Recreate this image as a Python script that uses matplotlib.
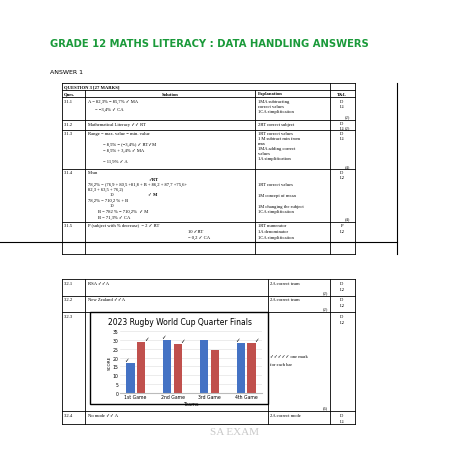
import matplotlib
matplotlib.use("Agg")
import matplotlib.pyplot as plt
from matplotlib.lines import Line2D
from matplotlib.patches import Rectangle
import numpy as np

teams = ["1st Game", "2nd Game", "3rd Game", "4th Game"]
series_a = [17, 30, 30, 28]
series_b = [29, 27.5, 24, 28.5]
yticks = [0, 5, 10, 15, 20, 25, 30, 35]

W = 452
FAM = ["Liberation Serif", "DejaVu Sans"]
fig = plt.figure(figsize=(4.52, 4.52), dpi=100)
fig.patch.set_facecolor("white")

def P(x, y):
    return x / W, 1 - y / W

def hl(x0, x1, y, lw=0.6):
    fig.add_artist(Line2D([x0 / W, x1 / W], [1 - y / W, 1 - y / W], color="black", lw=lw))

def vl(x, y0, y1, lw=0.6):
    fig.add_artist(Line2D([x / W, x / W], [1 - y0 / W, 1 - y1 / W], color="black", lw=lw))

def t(x, y, s, size=3.3, **kw):
    fig.text(*P(x, y), s, fontsize=size, family=FAM, va="center", **kw)

fig.text(*P(50, 44), "GRADE 12 MATHS LITERACY : DATA HANDLING ANSWERS", fontsize=7.2,
         color="#1a9a3a", weight="bold", family="DejaVu Sans", va="center")
fig.text(*P(50, 73), "ANSWER 1", fontsize=4.5, family="DejaVu Sans", va="center")

# top table
rows = [84, 91, 98, 121, 131, 170, 223, 255]
for y in rows:
    hl(62, 355, y)
for x in [62, 355]:
    vl(x, 84, 255)
for x in [85, 255, 330]:
    vl(x, 91, 255)
vl(330, 84, 91)
vl(397, 84, 255, 0.8)
hl(0, 397, 243, 0.8)
t(64, 87.5, "QUESTION 3 [27 MARKS]", weight="bold")
t(64, 94.5, "Ques.", weight="bold")
t(170, 94.5, "Solution", weight="bold", ha="center")
t(258, 94.5, "Explanation", weight="bold")
t(342, 94.5, "T&L", weight="bold", ha="center")
t(64, 102, "3.1.1"); t(88, 102, "A = 82,3% − 85,7% ✓ MA")
t(95, 110, "= −3,4% ✓ CA")
t(258, 102, "1MA subtracting"); t(258, 107, "correct values"); t(258, 112, "1CA simplification")
t(350, 117, "(2)", ha="right"); t(342, 102, "D", ha="center"); t(342, 107, "L1", ha="center")
t(64, 125, "3.1.2"); t(88, 125, "Mathematical Literacy ✓✓ RT")
t(258, 125, "2RT correct subject"); t(350, 128.5, "(2)", ha="right")
t(342, 124, "D", ha="center"); t(342, 129, "L1", ha="center")
t(64, 134, "3.1.3"); t(88, 134, "Range = max. value − min. value")
t(103, 145, "= 8,5% − (−3,4%) ✓ RT✓M"); t(103, 151, "= 8,5% + 3,4% ✓ MA")
t(103, 162, "= 11,9% ✓ A")
for i, s in enumerate(["1RT correct values", "1 M subtract min from", "max",
                       "1MA adding correct", "values", "1A simplification"]):
    t(258, 134 + 5 * i, s)
t(350, 167, "(4)", ha="right"); t(342, 134, "D", ha="center"); t(342, 139, "L1", ha="center")
t(64, 173, "3.1.4"); t(88, 173, "Mean")
t(148, 180, "✓RT", weight="bold")
t(88, 185, "78,2% = (76,9 + 80,5 +81,8 + B + 86,2 + 87,7 +75,6+")
t(88, 190, "82,3 + 63,5 + 76,2)")
t(110, 195, "10"); t(148, 195, "✓ M", weight="bold")
t(88, 201, "78,2% = 710,2 % + B"); t(110, 206, "10")
t(98, 212, "B = 782 % − 710,2%  ✓ M"); t(98, 218, "B = 71,3% ✓ CA")
t(258, 185, "1RT correct values"); t(258, 196, "1M concept of mean")
t(258, 207, "1M changing the subject"); t(258, 212, "1CA simplification")
t(350, 219, "(4)", ha="right"); t(342, 173, "D", ha="center"); t(342, 178, "L2", ha="center")
t(64, 226, "3.1.5"); t(88, 226, "P (subject with % decrease)  = 2 ✓ RT")
t(188, 232, "10 ✓RT"); t(188, 238, "= 0,2 ✓ CA")
t(258, 226, "1RT numerator"); t(258, 232, "1A denominator"); t(258, 238, "1CA simplification")
t(342, 226, "P", ha="center"); t(342, 232, "L2", ha="center")

# bottom table
rows2 = [280, 297, 313, 412, 425]
for y in rows2:
    hl(62, 355, y)
for x in [62, 85, 268, 330, 355]:
    vl(x, 280, 425)
t(64, 284, "3.2.1"); t(88, 284, "RSA ✓✓A"); t(270, 284, "2A correct team")
t(328, 293, "(2)", ha="right"); t(342, 284, "D", ha="center"); t(342, 290, "L2", ha="center")
t(64, 300, "3.2.2"); t(88, 300, "New Zealand ✓✓A"); t(270, 300, "2A correct team")
t(328, 309, "(2)", ha="right"); t(342, 300, "D", ha="center"); t(342, 306, "L2", ha="center")
t(64, 317, "3.2.3"); t(342, 317, "D", ha="center"); t(342, 323, "L2", ha="center")
t(270, 357, "✓✓✓✓✓ one mark"); t(270, 365, "for each bar")
t(328, 408, "(6)", ha="right")
t(64, 416, "3.2.4"); t(88, 416, "No mode ✓✓ A"); t(270, 416, "2A correct mode")
t(342, 416, "D", ha="center"); t(342, 422, "L1", ha="center")
fig.text(*P(210, 433), "SA EXAM", fontsize=8, color="#c9c9c9", family="Liberation Serif", va="center")

# chart frame
fig.add_artist(Rectangle(P(90, 405), 178 / W, 92 / W, fill=False, lw=1.0, color="black"))
fig.text(*P(180, 323), "2023 Rugby World Cup Quarter Finals", fontsize=5.5,
         ha="center", va="center", family="DejaVu Sans")
ax = fig.add_axes([120 / W, 1 - 394 / W, 142 / W, 62 / W])
x = np.arange(len(teams))
w = 0.22
ax.bar(x - 0.14, series_a, w, color="#4472c4")
ax.bar(x + 0.14, series_b, w, color="#c0504d")
ax.set_xticks(x)
ax.set_xticklabels(teams, fontsize=3.3)
ax.set_yticks(yticks)
ax.set_ylim(0, 35)
ax.tick_params(axis="y", labelsize=3.3, length=0, pad=1)
ax.tick_params(axis="x", length=0, pad=1)
ax.set_xlabel("Teams", fontsize=3.5, labelpad=1)
ax.set_ylabel("SCORE", fontsize=3, labelpad=1)
ax.grid(axis="y", color="#dddddd", lw=0.4)
ax.set_axisbelow(True)
for s in ["top", "right", "left"]:
    ax.spines[s].set_visible(False)
ax.spines["bottom"].set_color("#bbbbbb")
for xi, v in zip(x, series_a):
    if xi != 2:
        ax.text(xi - 0.24, v + 1, "✓", fontsize=4, ha="center", family="DejaVu Sans")
for xi, v in zip(x, series_b):
    if xi != 2:
        ax.text(xi + 0.28, v + 1, "✓", fontsize=4, ha="center", family="DejaVu Sans")

fig.savefig("out.png", dpi=100)
